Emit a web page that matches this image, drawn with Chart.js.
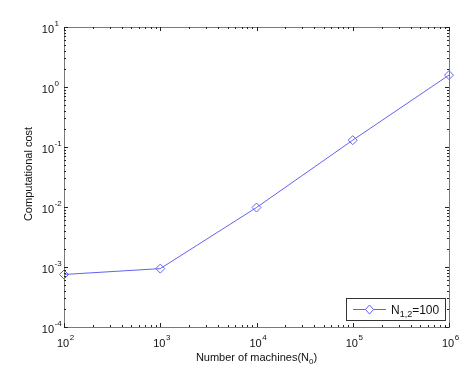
<!DOCTYPE html>
<html>
<head>
<meta charset="utf-8">
<script src="https://cdn.jsdelivr.net/npm/chart.js@4"></script>
<style>
html,body{margin:0;padding:0;background:#fff;}
#wrap{width:474px;height:370px;position:relative;}
</style>
</head>
<body>
<div id="wrap"><canvas id="c" width="474" height="370"></canvas></div>
<script>
// ---- data ----
const machines = [100, 1000, 10000, 100000, 1000000];
const cost = [7.5e-4, 9.4e-4, 9.8e-3, 0.13, 1.58];
const seriesName = {base: 'N', sub: '1,2', rest: '=100'};
const xTickValues = [1e2, 1e3, 1e4, 1e5, 1e6];
const xTickExponents = ['2', '3', '4', '5', '6'];
const yTickValues = [1e-4, 1e-3, 1e-2, 1e-1, 1e0, 1e1];
const yTickExponents = ['-4', '-3', '-2', '-1', '0', '1'];
const xTitle = {base: 'Number of machines(N', sub: '0', rest: ')'};
const yTitle = 'Computational cost';

const FONT = '"Liberation Sans", Arial, Helvetica, sans-serif';
const lineColor = '#6262f2';

const matlabAxes = {
  id: 'matlabAxes',
  afterDraw(chart) {
    const ctx = chart.ctx;
    const a = chart.chartArea;
    const xs = chart.scales.x, ys = chart.scales.y;
    ctx.save();
    // box
    ctx.strokeStyle = '#7a7a7a';
    ctx.lineWidth = 1;
    ctx.strokeRect(Math.round(a.left) + 0.5, Math.round(a.top) + 0.5,
                   Math.round(a.right - a.left), Math.round(a.bottom - a.top));
    // ticks
    ctx.strokeStyle = '#222';
    ctx.beginPath();
    function xTick(v, len) {
      const px = Math.round(xs.getPixelForValue(v)) + 0.5;
      ctx.moveTo(px, a.bottom); ctx.lineTo(px, a.bottom - len);
      ctx.moveTo(px, a.top); ctx.lineTo(px, a.top + len);
    }
    function yTick(v, len) {
      const py = Math.round(ys.getPixelForValue(v)) + 0.5;
      ctx.moveTo(a.left, py); ctx.lineTo(a.left + len, py);
      ctx.moveTo(a.right, py); ctx.lineTo(a.right - len, py);
    }
    for (let i = 0; i < xTickValues.length; i++) {
      xTick(xTickValues[i], 4);
      if (i < xTickValues.length - 1)
        for (let m = 2; m <= 9; m++) xTick(xTickValues[i] * m, 2);
    }
    for (let i = 0; i < yTickValues.length; i++) {
      yTick(yTickValues[i], 4);
      if (i < yTickValues.length - 1)
        for (let m = 2; m <= 9; m++) yTick(yTickValues[i] * m, 2);
    }
    ctx.stroke();

    // tick labels
    ctx.fillStyle = '#111';
    ctx.textBaseline = 'alphabetic';
    for (let i = 0; i < xTickValues.length; i++) {
      const px = xs.getPixelForValue(xTickValues[i]);
      ctx.font = '11px ' + FONT;
      ctx.textAlign = 'left';
      const x0 = px - 7;
      ctx.fillText('10', x0, a.bottom + 20);
      const w = ctx.measureText('10').width;
      ctx.font = '8px ' + FONT;
      ctx.fillText(xTickExponents[i], x0 + w + 0.5, a.bottom + 13);
    }
    for (let i = 0; i < yTickValues.length; i++) {
      const py = ys.getPixelForValue(yTickValues[i]);
      ctx.font = '11px ' + FONT;
      ctx.textAlign = 'right';
      ctx.fillText('10', a.left - 10, py + 6);
      ctx.font = '8px ' + FONT;
      ctx.textAlign = 'left';
      ctx.fillText(yTickExponents[i], a.left - 9.5, py - 1.5);
    }

    // x title
    ctx.font = '11px ' + FONT;
    const wb = ctx.measureText(xTitle.base).width;
    const wr = ctx.measureText(xTitle.rest).width;
    ctx.font = '8px ' + FONT;
    const ws = ctx.measureText(xTitle.sub).width;
    const total = wb + ws + wr;
    let tx = (a.left + a.right) / 2 - total / 2;
    const ty = a.bottom + 34;
    ctx.textAlign = 'left';
    ctx.font = '11px ' + FONT;
    ctx.fillText(xTitle.base, tx, ty);
    ctx.font = '8px ' + FONT;
    ctx.fillText(xTitle.sub, tx + wb, ty + 3);
    ctx.font = '11px ' + FONT;
    ctx.fillText(xTitle.rest, tx + wb + ws, ty);

    // y title
    ctx.save();
    ctx.translate(32, (a.top + a.bottom) / 2 - 3);
    ctx.rotate(-Math.PI / 2);
    ctx.textAlign = 'center';
    ctx.font = '11px ' + FONT;
    ctx.fillText(yTitle, 0, 0);
    ctx.restore();

    // legend
    const lx = 346.5, ly = 298.5, lw = 99, lh = 22;
    ctx.fillStyle = '#fff';
    ctx.fillRect(lx, ly, lw, lh);
    ctx.strokeStyle = '#333';
    ctx.lineWidth = 1;
    ctx.strokeRect(lx, ly, lw, lh);
    const my = ly + lh / 2;
    ctx.strokeStyle = lineColor;
    ctx.beginPath();
    ctx.moveTo(353, my); ctx.lineTo(386, my);
    ctx.stroke();
    ctx.fillStyle = '#fff';
    ctx.beginPath();
    ctx.moveTo(369.5, my - 4.5); ctx.lineTo(373.5, my); ctx.lineTo(369.5, my + 4.5); ctx.lineTo(365.5, my);
    ctx.closePath();
    ctx.fill(); ctx.stroke();
    ctx.fillStyle = '#111';
    ctx.font = '12px ' + FONT;
    let lxText = 391;
    const lyText = my + 4.5;
    ctx.fillText(seriesName.base, lxText, lyText);
    lxText += ctx.measureText(seriesName.base).width;
    ctx.font = '9px ' + FONT;
    ctx.fillText(seriesName.sub, lxText, lyText + 3);
    lxText += ctx.measureText(seriesName.sub).width;
    ctx.font = '12px ' + FONT;
    ctx.fillText(seriesName.rest, lxText, lyText);
    ctx.restore();
  }
};

new Chart(document.getElementById('c'), {
  type: 'line',
  data: {
    datasets: [{
      label: 'N1,2=100',
      data: machines.map((m, i) => ({x: m, y: cost[i]})),
      borderColor: lineColor,
      backgroundColor: '#fff',
      borderWidth: 1,
      pointStyle: 'rectRot',
      pointRadius: 4.5,
      pointBorderWidth: 1,
      pointBorderColor: lineColor,
      pointBackgroundColor: 'rgba(255,255,255,0)',
      tension: 0,
      clip: false
    }]
  },
  options: {
    responsive: false,
    animation: false,
    layout: {padding: {left: 64, top: 27, right: 25, bottom: 43}},
    plugins: {legend: {display: false}, tooltip: {enabled: false}},
    scales: {
      x: {type: 'logarithmic', min: 100, max: 1e6, display: false},
      y: {type: 'logarithmic', min: 1e-4, max: 10, display: false}
    }
  },
  plugins: [matlabAxes]
});
</script>
</body>
</html>
